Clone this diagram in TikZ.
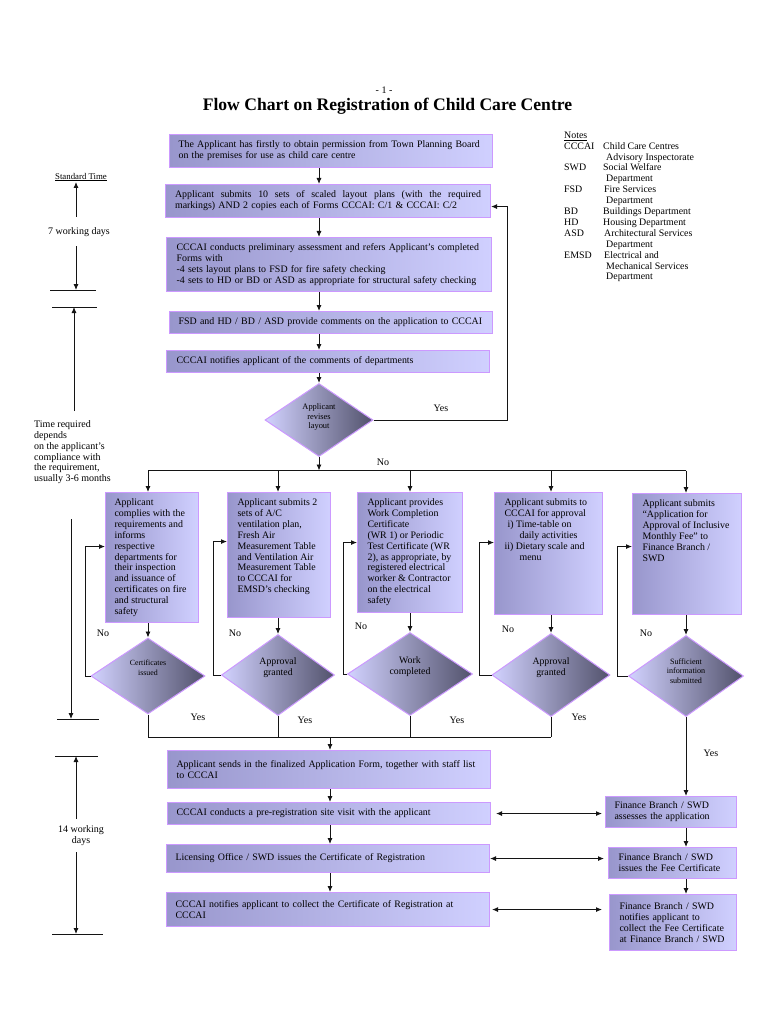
\documentclass[tikz,border=0pt]{standalone}
\usepackage{fontspec}
\setmainfont{Liberation Serif}
\usetikzlibrary{shapes.geometric,arrows.meta,calc}
\definecolor{boxL}{RGB}{152,150,204}
\definecolor{boxR}{RGB}{208,208,255}
\definecolor{boxB}{RGB}{204,153,255}
\definecolor{diaL}{RGB}{210,210,255}
\definecolor{diaR}{RGB}{82,82,108}
\definecolor{lnc}{RGB}{20,20,20}
\newcommand{\topbox}[3]{\parbox[c][#2][t]{#1}{\raggedright\rule{0pt}{13pt}#3}}
\begin{document}
\begin{tikzpicture}[x=1pt,y=-1pt,
  line/.style={draw=lnc, line width=0.9pt},
  arr/.style={line, -{Latex[length=6pt,width=5pt]}},
  darr/.style={line, {Latex[length=6pt,width=5pt]}-{Latex[length=6pt,width=5pt]}},
  mbox/.style={draw=boxB, line width=1.1pt, left color=boxL, right color=boxR,
    inner xsep=9pt, inner ysep=0pt, align=left, anchor=north west,
    font=\fontsize{9.9}{11}\selectfont},
  fbox/.style={draw=boxB, line width=1.1pt, left color=boxL, right color=boxR,
    inner xsep=0pt, inner ysep=0pt, anchor=north west,
    font=\fontsize{9.9}{10.9}\selectfont},
  dia/.style={diamond, draw=boxB, line width=1pt, left color=diaL, right color=diaR,
    inner sep=0pt},
  dtext/.style={align=center, inner sep=0pt},
  lbl/.style={font=\fontsize{10}{11}\selectfont, inner sep=0pt},
  plain/.style={draw=lnc, line width=0.9pt}
]
\useasboundingbox (0,0) rectangle (768,1024);
\fill[white] (0,0) rectangle (768,1024);

% title
\node[lbl] (page) at (384,90) {- 1 -};
\node[font=\fontsize{17.6}{20}\selectfont\bfseries, inner sep=0pt] (title) at (387.5,106) {Flow Chart on Registration of Child Care Centre};

% notes
\node[anchor=north west, inner sep=0pt, font=\fontsize{9.9}{10.9}\selectfont] (notes) at (564,130.4) {%
\begin{tabular}{@{}p{39pt}@{}l@{}}
\underline{Notes} & \\
CCCAI & Child Care Centres\\
 & \hspace{3pt}Advisory Inspectorate\\
SWD & Social Welfare\\
 & \hspace{3pt}Department\\
FSD & \hspace{1pt}Fire Services\\
 & \hspace{3pt}Department\\
BD & Buildings Department\\
HD & Housing Department\\
ASD & \hspace{1pt}Architectural Services\\
 & \hspace{3pt}Department\\
EMSD & \hspace{1pt}Electrical and\\
 & \hspace{3pt}Mechanical Services\\
 & \hspace{3pt}Department
\end{tabular}};

% main column boxes
\node[mbox, text width=305pt, minimum height=33pt] (box1) at (169,134) {The Applicant has firstly to obtain permission from Town Planning Board\\on the premises for use as child care centre};
\node[mbox, text width=306pt, inner xsep=9.5pt, minimum height=33pt] (box2) at (165,184) {\makebox[306pt][s]{\spaceskip=\fontdimen2\font plus 1fil\relax Applicant submits 10 sets of scaled layout plans (with the required}\\markings) AND 2 copies each of Forms CCCAI: C/1 \& CCCAI: C/2};
\node[mbox, text width=305pt, inner xsep=10pt, minimum height=54pt] (box3) at (166,237) {CCCAI conducts preliminary assessment and refers Applicant's completed\\Forms with\\-4 sets layout plans to FSD for fire safety checking\\-4 sets to HD or BD or ASD as appropriate for structural safety checking};
\node[mbox, text width=305pt, minimum height=22pt] (box4) at (169,311) {FSD and HD / BD / ASD provide comments on the application to CCCAI};
\node[mbox, text width=303pt, inner xsep=10pt, minimum height=22pt] (box5) at (166,350) {CCCAI notifies applicant of the comments of departments};

\node[dia, minimum width=108pt, minimum height=73pt] (dmain) at (319,420) {};
\node[dtext, font=\fontsize{8.4}{9.7}\selectfont] (dmaint) at ([yshift=3pt]dmain.center) {Applicant\\revises\\layout};

% five boxes
\node[fbox] (b1) at (105,492) {\hspace{9pt}\topbox{84pt}{130pt}{Applicant\\complies with the\\requirements and\\informs\\respective\\departments for\\their inspection\\and issuance of\\certificates on fire\\and structural\\safety}};
\node[fbox] (b2) at (227,492) {\hspace{10pt}\topbox{93pt}{125pt}{Applicant submits 2\\sets of A/C\\ventilation plan,\\Fresh Air\\Measurement Table\\and Ventilation Air\\Measurement Table\\to CCCAI for\\EMSD's checking}};
\node[fbox] (b3) at (357,492) {\hspace{10pt}\topbox{95pt}{120pt}{Applicant provides\\Work Completion\\Certificate\\(WR 1) or Periodic\\Test Certificate (WR\\2), as appropriate, by\\registered electrical\\worker \& Contractor\\on the electrical\\safety}};
\node[fbox] (b4) at (494,492) {\hspace{10pt}\topbox{98pt}{122pt}{Applicant submits to\\CCCAI for approval\\\hspace*{3pt}i) Time-table on\\\hspace*{15pt}daily activities\\ii) Dietary scale and\\\hspace*{15pt}menu}};
\node[fbox] (b5) at (632,493) {\hspace{10pt}\topbox{99pt}{121pt}{Applicant submits\\“Application for\\Approval of Inclusive\\Monthly Fee” to\\Finance Branch /\\SWD}};

% diamonds
\node[dia, minimum width=114pt, minimum height=76pt] (d1) at (148,676) {};
\node[dia, minimum width=113pt, minimum height=81pt] (d2) at (278,675) {};
\node[dia, minimum width=125pt, minimum height=83pt] (d3) at (410,674) {};
\node[dia, minimum width=118pt, minimum height=83pt] (d4) at (551,675) {};
\node[dia, minimum width=115pt, minimum height=81pt] (d5) at (686,676) {};
\node[dtext, font=\fontsize{7.9}{9.6}\selectfont] (d1t) at ([yshift=8pt]d1.center) {Certificates\\issued};
\node[dtext, font=\fontsize{9.8}{11}\selectfont] (d2t) at ([yshift=7.5pt]d2.center) {Approval\\granted};
\node[dtext, font=\fontsize{9.8}{11}\selectfont] (d3t) at ([yshift=7.5pt]d3.center) {Work\\completed};
\node[dtext, font=\fontsize{9.8}{11}\selectfont] (d4t) at ([yshift=7.5pt]d4.center) {Approval\\granted};
\node[dtext, font=\fontsize{8.1}{9.3}\selectfont] (d5t) at ([yshift=5pt]d5.center) {Sufficient\\information\\submitted};

% bottom boxes
\node[mbox, text width=305pt, minimum height=38pt] (bb1) at (167,750) {Applicant sends in the finalized Application Form, together with staff list\\to CCCAI};
\node[mbox, text width=305pt, minimum height=22pt] (bb2) at (167,802) {CCCAI conducts a pre-registration site visit with the applicant};
\node[mbox, text width=305pt, minimum height=28pt] (bb3) at (166,844) {Licensing Office / SWD issues the Certificate of Registration};
\node[mbox, text width=305pt, minimum height=34pt] (bb4) at (166,892) {CCCAI notifies applicant to collect the Certificate of Registration at\\CCCAI};
\node[mbox, text width=113pt, minimum height=31pt] (f1) at (605,796) {Finance Branch / SWD\\assesses the application};
\node[mbox, text width=108pt, inner xsep=10pt, minimum height=31pt] (f2) at (608,847) {Finance Branch / SWD\\issues the Fee Certificate};
\node[mbox, text width=107pt, inner xsep=10pt, minimum height=56pt] (f3) at (609,894) {Finance Branch / SWD\\notifies applicant to\\collect the Fee Certificate\\at Finance Branch / SWD};

% main column connectors
\draw[arr] (box1.south -| dmain.center) -- (box2.north -| dmain.center);
\draw[arr] (box2.south -| dmain.center) -- (box3.north -| dmain.center);
\draw[arr] (box3.south -| dmain.center) -- (box4.north -| dmain.center);
\draw[arr] (box4.south -| dmain.center) -- (box5.north -| dmain.center);
\draw[arr] (box5.south -| dmain.center) -- (dmain.north);
\draw[arr] (dmain.east) -- (507,420) |- ([yshift=-5.5pt]box2.east);
\node[lbl] (yesm) at (441,408) {Yes};
\node[lbl] (nom) at (383,462) {No};

% branch
\coordinate (br) at (319,470.5);
\draw[arr] (dmain.south) -- (br);
\draw[line] (d1 |- br) -- (d5 |- br);
\draw[arr] (d1 |- br) -- (b1.north -| d1);
\draw[arr] (d2 |- br) -- (b2.north -| d2);
\draw[arr] (d3 |- br) -- (b3.north -| d3);
\draw[arr] (d4 |- br) -- (b4.north -| d4);
\draw[arr] (d5 |- br) -- (b5.north -| d5);

% box to diamond
\draw[arr] (b1.south -| d1) -- (d1.north);
\draw[arr] (b2.south -| d2) -- (d2.north);
\draw[arr] (b3.south -| d3) -- (d3.north);
\draw[arr] (b4.south -| d4) -- (d4.north);
\draw[arr] (b5.south -| d5) -- (d5.north);

% no loops
\draw[arr] (d1.west) -- (85,676) |- ([yshift=11pt]b1.west);
\draw[arr] (d2.west) -- (213,675) |- ([yshift=13.5pt]b2.west);
\draw[arr] (d3.west) -- (343,674) |- ([yshift=10pt]b3.west);
\draw[arr] (d4.west) -- (479,675) |- ([yshift=11pt]b4.west);
\draw[arr] (d5.west) -- (617,676) |- ([yshift=7.5pt]b5.west);
\node[lbl] (no1) at (103,633) {No};
\node[lbl] (no2) at (235,633) {No};
\node[lbl] (no3) at (361,626) {No};
\node[lbl] (no4) at (508,629) {No};
\node[lbl] (no5) at (646,633) {No};
\node[lbl] (yes1) at (198,717) {Yes};
\node[lbl] (yes2) at (305,720) {Yes};
\node[lbl] (yes3) at (457,720) {Yes};
\node[lbl] (yes4) at (579,717) {Yes};
\node[lbl] (yes5) at (711,753) {Yes};

% merge
\coordinate (mg) at (330,737);
\draw[line] (d1.south) -- (d1.south |- mg);
\draw[line] (d2.south) -- (d2.south |- mg);
\draw[line] (d3.south) -- (d3.south |- mg);
\draw[line] (d4.south) -- (d4.south |- mg);
\draw[line] (d1.south |- mg) -- (d4.south |- mg);
\draw[arr] (mg) -- (mg |- bb1.north);
\draw[arr] (bb1.south -| mg) -- (bb2.north -| mg);
\draw[arr] (bb2.south -| mg) -- (bb3.north -| mg);
\draw[arr] (bb3.south -| mg) -- (bb4.north -| mg);

% finance column
\draw[arr] (d5.south) -- (d5.south |- f1.north);
\draw[arr] (f1.south -| d5) -- (f2.north -| d5);
\draw[arr] (f2.south -| d5) -- (f3.north -| d5);
\draw[darr, shorten <=5pt, shorten >=3pt] (bb2.east) -- (bb2.east -| f1.west);
\draw[darr, shorten >=4pt] (bb3.east) -- (bb3.east -| f2.west);
\draw[darr, shorten <=2pt, shorten >=7pt] (bb4.east) -- (bb4.east -| f3.west);

% timeline
\node[font=\fontsize{8.8}{10}\selectfont, inner sep=0pt] (stdt) at (81,177) {\underline{Standard Time}};
\coordinate (t1) at (76,182);
\coordinate (t2) at (76,217);
\coordinate (t3) at (76,246);
\coordinate (t4) at (76,290);
\node[lbl] (wd7) at (79,232) {7 working days};
\draw[arr] (t2) -- (t1);
\draw[arr] (t3) -- (t4);
\draw[plain] (50,290) -- (96,290);
\draw[plain] (52,307) -- (97,307);
\coordinate (t5) at (74,411);
\coordinate (t6) at (74,307);
\draw[arr] (t5) -- (t6);
\node[anchor=north west, inner sep=0pt, align=left, font=\fontsize{10}{10.8}\selectfont] (treq) at (34,420.5) {Time required\\depends\\on the applicant's\\compliance with\\the requirement,\\usually 3-6 months};
\coordinate (t7) at (71,519);
\coordinate (t8) at (71,719);
\draw[arr] (t7) -- (t8);
\draw[plain] (57,719) -- (99,719);
\draw[plain] (55,756) -- (98,756);
\coordinate (t9) at (76,819);
\coordinate (t10) at (76,756);
\draw[arr] (t9) -- (t10);
\node[lbl, align=center] (wd14) at (81,835.5) {14 working\\days};
\coordinate (t11) at (76,852);
\coordinate (t12) at (76,934);
\draw[arr] (t11) -- (t12);
\draw[plain] (52,934) -- (103,934);
\end{tikzpicture}
\end{document}
